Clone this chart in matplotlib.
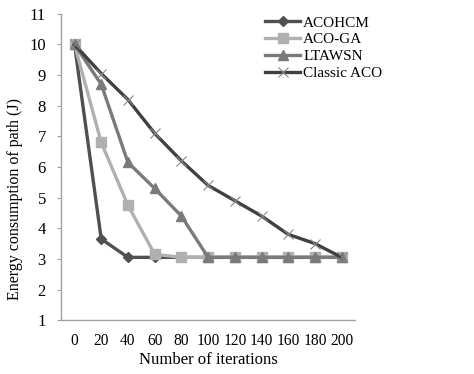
import numpy as np
import matplotlib.pyplot as plt

plt.rcParams['font.family'] = ['Liberation Serif', 'DejaVu Serif']

iterations = ['0', '20', '40', '60', '80', '100', '120', '140', '160', '180', '200']
acohcm = [10, 3.65, 3.05, 3.05, 3.05, 3.05, 3.05, 3.05, 3.05, 3.05, 3.05]
aco_ga = [10, 6.8, 4.75, 3.15, 3.05, 3.05, 3.05, 3.05, 3.05, 3.05, 3.05]
ltawsn = [10, 8.7, 6.15, 5.3, 4.4, 3.05, 3.05, 3.05, 3.05, 3.05, 3.05]
classic_aco = [10, 9.05, 8.2, 7.1, 6.2, 5.4, 4.9, 4.4, 3.8, 3.5, 3.05]

fig = plt.figure(figsize=(4.74, 3.74), dpi=100)
ax = fig.add_axes([0.129, 0.144, 0.62, 0.819])

x = np.arange(len(iterations))
ax.plot(x, acohcm, color='#505050', lw=2.4, marker='D', ms=5, label='ACOHCM')
ax.plot(x, aco_ga, color='#b0b0b0', lw=2.4, marker='s', ms=6.5, label='ACO-GA')
ax.plot(x, ltawsn, color='#7a7a7a', lw=2.4, marker='^', ms=6.5, label='LTAWSN')
ax.plot(x, classic_aco, color='#404040', lw=2.4, marker='x', ms=7, mew=0.8,
        mec='#888888', label='Classic ACO')

ax.set_xlim(-0.5, len(iterations) - 0.5)
ax.set_ylim(1, 11)
ax.set_yticks(range(1, 12))
ax.set_xticks(x)
ax.set_xticklabels(iterations)
ax.tick_params(axis='x', labelsize=11.2, length=0, pad=9)
ax.tick_params(axis='y', labelsize=12, length=3, width=0.8, color='#a0a0a0', pad=8)

for s in ['top', 'right']:
    ax.spines[s].set_visible(False)
for s in ['left', 'bottom']:
    ax.spines[s].set_color('#a0a0a0')
    ax.spines[s].set_linewidth(1)

ax.set_xlabel('Number of iterations', fontsize=12)
ax.set_ylabel('Energy consumption of path (J)', fontsize=11.5)
ax.yaxis.set_label_coords(-0.13, 0.394)
ax.xaxis.set_label_coords(0.5, -0.105)

fig.legend(loc='upper left', bbox_to_anchor=(265 / 474, 1 - 16 / 374), frameon=False,
           fontsize=11, handlelength=2.3, handletextpad=0.2, labelspacing=0.2,
           borderpad=0, borderaxespad=0)

fig.savefig('out.png', dpi=100)
